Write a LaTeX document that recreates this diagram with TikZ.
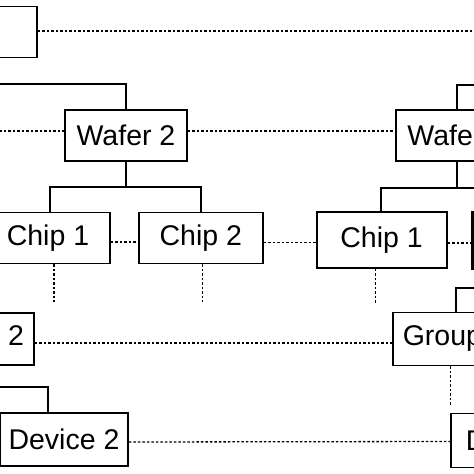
\documentclass[tikz,border=0pt]{standalone}
\usepackage{fontspec}
\setmainfont{Liberation Sans}
\usetikzlibrary{positioning}
\tikzset{
    unit/.style={draw, line width=1.8pt, fill=white, inner sep=0pt,
        minimum width=122pt, minimum height=51pt,
        font=\fontsize{28.5}{34}\selectfont},
    link/.style={line width=1.8pt},
    peer/.style={line width=1.3pt, dash pattern=on 2.5pt off 2pt}
}
\begin{document}
\begin{tikzpicture}[x=1pt, y=-1pt]
    \useasboundingbox (0,0) rectangle (474,474);
    \clip (0,0) rectangle (474,474);
    \node[unit] (lot1) at (-24,32) {};
    \node[unit] (w2) at (126,135.5) {Wafer 2};
    \node[unit, right=207pt of w2] (w3) {Wafe\phantom{r 3}};
    \node[unit, minimum width=124pt] (c1) at (48,238) {Chip 1};
    \node[unit, minimum width=124pt, right=27pt of c1] (c2) {Chip 2};
    \node[unit, minimum width=130pt, minimum height=56pt, right=52pt of c2, yshift=-2pt] (c3) {Chip 1};
    \node[unit, minimum width=130pt, minimum height=56pt, line width=3pt, right=23pt of c3] (c4) {};
    \node[unit, minimum width=123pt, minimum height=52pt] (g2) at (-27.5,339) {\phantom{Group }2};
    \node[unit, minimum width=123pt, minimum height=53pt, right=357pt of g2] (g3) {Group\phantom{ 3}};
    \node[unit, minimum width=128pt, minimum height=53pt] (d2) at (64,439.5) {Device 2};
    \node[unit, minimum width=141pt, minimum height=54pt, right=321pt of d2, yshift=-1pt] (d3) {D\phantom{evice 3}};
    \coordinate (lotbus1) at (-10,84);
    \coordinate (lotbus2) at (490,85);
    \coordinate (split2) at (126,187);
    \coordinate (split3) at (490,188);
    \coordinate (chipbus) at (490,288);
    \coordinate (groupbus) at (-10,387);
    \coordinate (w1) at (-10,131);
    \coordinate (lot2) at (490,31);
    \draw[link] (lotbus1) -| (w2);
    \draw[link] (w3) |- (lotbus2);
    \draw[link] (w2) -- (split2);
    \draw[link] ([xshift=2pt]c1.north) |- (split2) -| (c2);
    \draw[link] (w3) -- (w3 |- split3);
    \draw[link] ([xshift=-1pt]c3.north) |- (split3);
    \draw[link] ([xshift=1.5pt]g3.north) |- (chipbus);
    \draw[link] (groupbus) -| ([xshift=-16pt]d2.north);
    \draw[peer] ([yshift=1pt]lot1.east) -- (lot2);
    \draw[peer] (w1) -- ([yshift=4.5pt]w2.west);
    \draw[peer] ([yshift=4.5pt]w2.east) -- ([yshift=4.5pt]w3.west);
    \draw[peer] ([yshift=-4pt]c1.east) -- ([yshift=-4pt]c2.west);
    \draw[peer] ([yshift=-4.5pt]c2.east) -- ([yshift=-2.5pt]c3.west);
    \draw[peer] ([yshift=-3pt]c3.east) -- ([yshift=-3pt]c4.west);
    \draw[peer] ([yshift=-4pt]g2.east) -- ([yshift=-4pt]g3.west);
    \draw[peer] ([yshift=-2.5pt]d2.east) -- ([yshift=-1pt]d3.west);
    \draw[peer] ([xshift=6pt]c1.south) -- ++(0,38);
    \draw[peer] ([xshift=2pt]c2.south) -- ++(0,38);
    \draw[peer] ([xshift=-6pt]c3.south) -- ++(0,35);
    \draw[peer] ([xshift=-3.5pt]g3.south) -- ++(0,39);
\end{tikzpicture}
\end{document}
